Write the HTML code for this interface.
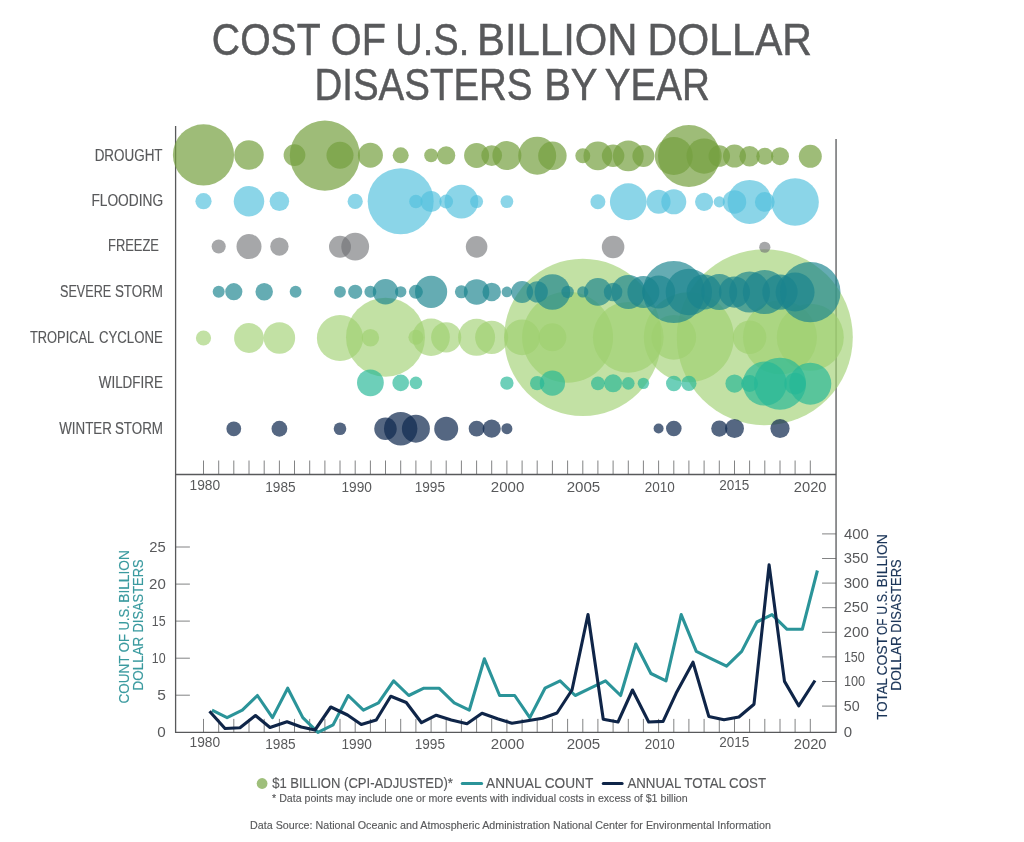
<!DOCTYPE html>
<html lang="en"><head><meta charset="utf-8"><title>Cost of U.S. Billion Dollar Disasters by Year</title>
<style>html,body{margin:0;padding:0;background:#fff}body{width:1024px;height:842px;overflow:hidden}svg{display:block}text{font-family:"Liberation Sans",sans-serif;}</style></head><body>
<svg width="1024" height="842" viewBox="0 0 1024 842">
<rect width="1024" height="842" fill="#fff"/>
<text y="55.0" font-size="45" fill="#58595b" stroke="#58595b" stroke-width="0.5"><tspan x="211.85" textLength="108.15" lengthAdjust="spacingAndGlyphs">COST</tspan> <tspan x="330.82" textLength="55.12" lengthAdjust="spacingAndGlyphs">OF</tspan> <tspan x="395.36" textLength="73.84" lengthAdjust="spacingAndGlyphs">U.S.</tspan> <tspan x="477.05" textLength="160.51" lengthAdjust="spacingAndGlyphs">BILLION</tspan> <tspan x="647.61" textLength="164.41" lengthAdjust="spacingAndGlyphs">DOLLAR</tspan></text>
<text y="100.3" font-size="45" fill="#58595b" stroke="#58595b" stroke-width="0.5"><tspan x="314.52" textLength="217.92" lengthAdjust="spacingAndGlyphs">DISASTERS</tspan> <tspan x="544.15" textLength="52.60" lengthAdjust="spacingAndGlyphs">BY</tspan> <tspan x="604.74" textLength="105.22" lengthAdjust="spacingAndGlyphs">YEAR</tspan></text>
<g stroke="#58595b" stroke-width="1.3" fill="none">
<path d="M175.6 126V732.3H836.05V139"/>
<path d="M175.6 474.5H836.05"/>
</g>
<g stroke="#58595b" stroke-width="0.75" fill="none">
<path d="M203.5 474.5v-14M203.5 732.3v-13.4M218.7 474.5v-14M218.7 732.3v-13.4M233.8 474.5v-14M233.8 732.3v-13.4M249.0 474.5v-14M249.0 732.3v-13.4M264.2 474.5v-14M264.2 732.3v-13.4M279.4 474.5v-14M279.4 732.3v-13.4M294.5 474.5v-14M294.5 732.3v-13.4M309.7 474.5v-14M309.7 732.3v-13.4M324.9 474.5v-14M324.9 732.3v-13.4M340.0 474.5v-14M340.0 732.3v-13.4M355.2 474.5v-14M355.2 732.3v-13.4M370.4 474.5v-14M370.4 732.3v-13.4M385.5 474.5v-14M385.5 732.3v-13.4M400.7 474.5v-14M400.7 732.3v-13.4M415.9 474.5v-14M415.9 732.3v-13.4M431.1 474.5v-14M431.1 732.3v-13.4M446.2 474.5v-14M446.2 732.3v-13.4M461.4 474.5v-14M461.4 732.3v-13.4M476.6 474.5v-14M476.6 732.3v-13.4M491.7 474.5v-14M491.7 732.3v-13.4M506.9 474.5v-14M506.9 732.3v-13.4M522.1 474.5v-14M522.1 732.3v-13.4M537.2 474.5v-14M537.2 732.3v-13.4M552.4 474.5v-14M552.4 732.3v-13.4M567.6 474.5v-14M567.6 732.3v-13.4M582.8 474.5v-14M582.8 732.3v-13.4M597.9 474.5v-14M597.9 732.3v-13.4M613.1 474.5v-14M613.1 732.3v-13.4M628.3 474.5v-14M628.3 732.3v-13.4M643.4 474.5v-14M643.4 732.3v-13.4M658.6 474.5v-14M658.6 732.3v-13.4M673.8 474.5v-14M673.8 732.3v-13.4M688.9 474.5v-14M688.9 732.3v-13.4M704.1 474.5v-14M704.1 732.3v-13.4M719.3 474.5v-14M719.3 732.3v-13.4M734.5 474.5v-14M734.5 732.3v-13.4M749.6 474.5v-14M749.6 732.3v-13.4M764.8 474.5v-14M764.8 732.3v-13.4M780.0 474.5v-14M780.0 732.3v-13.4M795.1 474.5v-14M795.1 732.3v-13.4M810.3 474.5v-14M810.3 732.3v-13.4"/>
<path d="M175.6 695.2h14.3M175.6 658.2h14.3M175.6 621.1h14.3M175.6 584.1h14.3M175.6 547.0h14.3M836.05 706.1h-14M836.05 681.5h-14M836.05 656.9h-14M836.05 632.3h-14M836.05 607.7h-14M836.05 583.1h-14M836.05 558.5h-14M836.05 533.9h-14"/>
</g>
<g fill="#9ecf6f" fill-opacity="0.63">
<circle cx="203.5" cy="338" r="7.6"/>
<circle cx="249.0" cy="338" r="14.9"/>
<circle cx="279.4" cy="338" r="15.75"/>
<circle cx="340.0" cy="338" r="23.1"/>
<circle cx="370.4" cy="337.8" r="8.75"/>
<circle cx="385.5" cy="337.3" r="39.5"/>
<circle cx="415.9" cy="337.3" r="7.5"/>
<circle cx="431.1" cy="337.3" r="18.75"/>
<circle cx="446.2" cy="337.3" r="15.1"/>
<circle cx="476.6" cy="337.3" r="18.5"/>
<circle cx="491.7" cy="337.3" r="16.6"/>
<circle cx="522.1" cy="337.3" r="17.9"/>
<circle cx="552.4" cy="337.3" r="14"/>
<circle cx="567.6" cy="337.3" r="45.5"/>
<circle cx="582.8" cy="337.3" r="78.6"/>
<circle cx="628.3" cy="337.3" r="35.4"/>
<circle cx="673.8" cy="337.3" r="22.4"/>
<circle cx="688.9" cy="337.3" r="45"/>
<circle cx="749.6" cy="337.3" r="16.8"/>
<circle cx="764.8" cy="337.3" r="88"/>
<circle cx="780.0" cy="337.3" r="37"/>
<circle cx="810.3" cy="337.3" r="33.5"/>
</g>
<g fill="#75a03e" fill-opacity="0.7">
<circle cx="203.5" cy="154.9" r="30.6"/>
<circle cx="249.0" cy="155.0" r="14.75"/>
<circle cx="294.5" cy="155.11" r="10.9"/>
<circle cx="324.9" cy="155.6" r="35.1"/>
<circle cx="340.0" cy="155.22" r="13.5"/>
<circle cx="370.4" cy="155.28" r="12.5"/>
<circle cx="400.7" cy="155.36" r="8"/>
<circle cx="431.1" cy="155.43" r="6.9"/>
<circle cx="446.2" cy="155.46" r="9.1"/>
<circle cx="476.6" cy="155.53" r="12.5"/>
<circle cx="491.7" cy="155.56" r="10.4"/>
<circle cx="506.9" cy="155.6" r="14.5"/>
<circle cx="537.2" cy="155.67" r="19"/>
<circle cx="552.4" cy="155.71" r="14.25"/>
<circle cx="582.8" cy="155.78" r="7.5"/>
<circle cx="597.9" cy="155.81" r="14.4"/>
<circle cx="613.1" cy="155.84" r="11.25"/>
<circle cx="628.3" cy="155.88" r="15.4"/>
<circle cx="643.4" cy="155.91" r="11"/>
<circle cx="673.8" cy="155.99" r="19"/>
<circle cx="688.9" cy="156.02" r="30.9"/>
<circle cx="704.1" cy="156.06" r="17.6"/>
<circle cx="719.3" cy="156.09" r="10.75"/>
<circle cx="734.5" cy="156.12" r="11.5"/>
<circle cx="749.6" cy="156.16" r="10.25"/>
<circle cx="764.8" cy="156.19" r="8.5"/>
<circle cx="780.0" cy="156.23" r="9"/>
<circle cx="810.3" cy="156.3" r="11.5"/>
</g>
<g fill="#52c1dc" fill-opacity="0.67">
<circle cx="203.5" cy="201.2" r="8.1"/>
<circle cx="249.0" cy="201.26" r="15.25"/>
<circle cx="279.4" cy="201.3" r="9.75"/>
<circle cx="355.2" cy="201.4" r="7.6"/>
<circle cx="400.7" cy="201.2" r="33"/>
<circle cx="415.9" cy="201.48" r="6.75"/>
<circle cx="431.1" cy="201.5" r="10.6"/>
<circle cx="446.2" cy="201.52" r="6.9"/>
<circle cx="461.4" cy="201.54" r="16.9"/>
<circle cx="476.6" cy="201.56" r="6.5"/>
<circle cx="506.9" cy="201.6" r="6.4"/>
<circle cx="597.9" cy="201.72" r="7.5"/>
<circle cx="628.3" cy="201.76" r="18.4"/>
<circle cx="658.6" cy="201.8" r="12"/>
<circle cx="673.8" cy="201.82" r="12.5"/>
<circle cx="704.1" cy="201.86" r="9.1"/>
<circle cx="719.3" cy="201.88" r="5.6"/>
<circle cx="734.5" cy="201.9" r="11.75"/>
<circle cx="749.6" cy="201.92" r="22"/>
<circle cx="764.8" cy="201.94" r="9.9"/>
<circle cx="795.1" cy="201.98" r="23.75"/>
</g>
<g fill="#707175" fill-opacity="0.62">
<circle cx="218.7" cy="246.52" r="7.05"/>
<circle cx="249.0" cy="246.56" r="12.5"/>
<circle cx="279.4" cy="246.6" r="9.2"/>
<circle cx="340.0" cy="246.68" r="11"/>
<circle cx="355.2" cy="246.7" r="13.9"/>
<circle cx="476.6" cy="246.86" r="10.8"/>
<circle cx="613.1" cy="247.04" r="11.3"/>
<circle cx="764.8" cy="247.24" r="5.6"/>
</g>
<g fill="#19838d" fill-opacity="0.67">
<circle cx="218.7" cy="291.71" r="6"/>
<circle cx="233.8" cy="291.72" r="8.6"/>
<circle cx="264.2" cy="291.74" r="8.75"/>
<circle cx="295.6" cy="291.76" r="5.9"/>
<circle cx="340.0" cy="291.79" r="5.9"/>
<circle cx="355.2" cy="291.8" r="7.1"/>
<circle cx="370.4" cy="291.81" r="6"/>
<circle cx="385.5" cy="291.82" r="12.7"/>
<circle cx="400.7" cy="291.83" r="5.7"/>
<circle cx="415.9" cy="291.84" r="7"/>
<circle cx="431.1" cy="291.85" r="16.1"/>
<circle cx="461.4" cy="291.87" r="6.5"/>
<circle cx="476.6" cy="291.88" r="12.75"/>
<circle cx="491.7" cy="291.89" r="9.25"/>
<circle cx="506.9" cy="291.9" r="5.3"/>
<circle cx="522.1" cy="291.91" r="11"/>
<circle cx="537.2" cy="291.92" r="10.7"/>
<circle cx="552.4" cy="291.93" r="17.8"/>
<circle cx="567.6" cy="291.94" r="6.2"/>
<circle cx="582.8" cy="291.95" r="5.6"/>
<circle cx="597.9" cy="291.96" r="13.9"/>
<circle cx="613.1" cy="291.97" r="9.3"/>
<circle cx="628.3" cy="291.98" r="17"/>
<circle cx="643.4" cy="291.99" r="16"/>
<circle cx="658.6" cy="292.0" r="16.6"/>
<circle cx="673.8" cy="292.01" r="31"/>
<circle cx="688.9" cy="292.02" r="23.2"/>
<circle cx="704.1" cy="292.03" r="17.5"/>
<circle cx="719.3" cy="292.04" r="18"/>
<circle cx="734.5" cy="292.05" r="15.6"/>
<circle cx="749.6" cy="292.06" r="20.5"/>
<circle cx="764.8" cy="292.07" r="22"/>
<circle cx="780.0" cy="292.08" r="17.7"/>
<circle cx="795.1" cy="292.09" r="19.5"/>
<circle cx="810.3" cy="292.1" r="30.2"/>
</g>
<g fill="#25b796" fill-opacity="0.67">
<circle cx="370.4" cy="382.83" r="13.4"/>
<circle cx="400.7" cy="382.89" r="8.3"/>
<circle cx="415.9" cy="382.92" r="6.3"/>
<circle cx="506.9" cy="383.1" r="6.7"/>
<circle cx="537.2" cy="383.16" r="7.2"/>
<circle cx="552.4" cy="383.19" r="12.6"/>
<circle cx="597.9" cy="383.28" r="6.9"/>
<circle cx="613.1" cy="383.31" r="9"/>
<circle cx="628.3" cy="383.34" r="6.3"/>
<circle cx="643.4" cy="383.37" r="5.7"/>
<circle cx="673.8" cy="383.43" r="7.8"/>
<circle cx="688.9" cy="383.46" r="7.6"/>
<circle cx="734.5" cy="383.55" r="9.1"/>
<circle cx="749.6" cy="383.58" r="8.5"/>
<circle cx="764.8" cy="383.61" r="22"/>
<circle cx="780.0" cy="383.64" r="26"/>
<circle cx="795.1" cy="383.67" r="10.8"/>
<circle cx="810.3" cy="383.7" r="21"/>
</g>
<g fill="#0f294f" fill-opacity="0.71">
<circle cx="233.8" cy="428.78" r="7.4"/>
<circle cx="279.4" cy="428.76" r="7.9"/>
<circle cx="340.0" cy="428.73" r="6.3"/>
<circle cx="385.5" cy="428.7" r="11.25"/>
<circle cx="400.7" cy="428.7" r="16.7"/>
<circle cx="415.9" cy="428.69" r="14"/>
<circle cx="446.2" cy="428.67" r="12"/>
<circle cx="476.6" cy="428.66" r="7.9"/>
<circle cx="491.7" cy="428.65" r="9.1"/>
<circle cx="506.9" cy="428.64" r="5.5"/>
<circle cx="658.6" cy="428.56" r="5"/>
<circle cx="673.8" cy="428.55" r="7.8"/>
<circle cx="719.3" cy="428.53" r="8.1"/>
<circle cx="734.5" cy="428.52" r="9.5"/>
<circle cx="780.0" cy="428.5" r="9.6"/>
</g>
<text y="160.5" font-size="15.8" fill="#58595b" stroke="#58595b" stroke-width="0.15"><tspan x="94.63" textLength="67.91" lengthAdjust="spacingAndGlyphs">DROUGHT</tspan></text>
<text y="205.9" font-size="15.8" fill="#58595b" stroke="#58595b" stroke-width="0.15"><tspan x="91.40" textLength="71.80" lengthAdjust="spacingAndGlyphs">FLOODING</tspan></text>
<text y="251.2" font-size="15.8" fill="#58595b" stroke="#58595b" stroke-width="0.15"><tspan x="108.07" textLength="50.91" lengthAdjust="spacingAndGlyphs">FREEZE</tspan></text>
<text y="297.3" font-size="15.8" fill="#58595b" stroke="#58595b" stroke-width="0.15"><tspan x="59.97" textLength="51.23" lengthAdjust="spacingAndGlyphs">SEVERE</tspan> <tspan x="114.93" textLength="48.08" lengthAdjust="spacingAndGlyphs">STORM</tspan></text>
<text y="342.8" font-size="15.8" fill="#58595b" stroke="#58595b" stroke-width="0.15"><tspan x="29.94" textLength="63.85" lengthAdjust="spacingAndGlyphs">TROPICAL</tspan> <tspan x="99.04" textLength="63.75" lengthAdjust="spacingAndGlyphs">CYCLONE</tspan></text>
<text y="388.4" font-size="15.8" fill="#58595b" stroke="#58595b" stroke-width="0.15"><tspan x="98.77" textLength="64.08" lengthAdjust="spacingAndGlyphs">WILDFIRE</tspan></text>
<text y="433.8" font-size="15.8" fill="#58595b" stroke="#58595b" stroke-width="0.15"><tspan x="59.27" textLength="52.55" lengthAdjust="spacingAndGlyphs">WINTER</tspan> <tspan x="114.93" textLength="48.08" lengthAdjust="spacingAndGlyphs">STORM</tspan></text>
<text y="490.3" font-size="15.2" fill="#58595b"><tspan x="189.50" textLength="30.62" lengthAdjust="spacingAndGlyphs">1980</tspan></text>
<text y="747.4" font-size="15.2" fill="#58595b"><tspan x="189.50" textLength="30.62" lengthAdjust="spacingAndGlyphs">1980</tspan></text>
<text y="491.5" font-size="15.2" fill="#58595b"><tspan x="265.21" textLength="30.40" lengthAdjust="spacingAndGlyphs">1985</tspan></text>
<text y="748.8" font-size="15.2" fill="#58595b"><tspan x="265.21" textLength="30.40" lengthAdjust="spacingAndGlyphs">1985</tspan></text>
<text y="491.5" font-size="15.2" fill="#58595b"><tspan x="341.51" textLength="30.40" lengthAdjust="spacingAndGlyphs">1990</tspan></text>
<text y="748.8" font-size="15.2" fill="#58595b"><tspan x="341.51" textLength="30.40" lengthAdjust="spacingAndGlyphs">1990</tspan></text>
<text y="491.5" font-size="15.2" fill="#58595b"><tspan x="414.71" textLength="30.30" lengthAdjust="spacingAndGlyphs">1995</tspan></text>
<text y="748.8" font-size="15.2" fill="#58595b"><tspan x="414.71" textLength="30.30" lengthAdjust="spacingAndGlyphs">1995</tspan></text>
<text y="491.5" font-size="15.2" fill="#58595b"><tspan x="490.75" textLength="33.53" lengthAdjust="spacingAndGlyphs">2000</tspan></text>
<text y="748.8" font-size="15.2" fill="#58595b"><tspan x="490.75" textLength="33.53" lengthAdjust="spacingAndGlyphs">2000</tspan></text>
<text y="491.5" font-size="15.2" fill="#58595b"><tspan x="566.64" textLength="33.63" lengthAdjust="spacingAndGlyphs">2005</tspan></text>
<text y="748.8" font-size="15.2" fill="#58595b"><tspan x="566.64" textLength="33.63" lengthAdjust="spacingAndGlyphs">2005</tspan></text>
<text y="491.5" font-size="15.2" fill="#58595b"><tspan x="644.82" textLength="30.08" lengthAdjust="spacingAndGlyphs">2010</tspan></text>
<text y="748.8" font-size="15.2" fill="#58595b"><tspan x="644.82" textLength="30.08" lengthAdjust="spacingAndGlyphs">2010</tspan></text>
<text y="490.0" font-size="15.2" fill="#58595b"><tspan x="719.32" textLength="30.08" lengthAdjust="spacingAndGlyphs">2015</tspan></text>
<text y="747.3" font-size="15.2" fill="#58595b"><tspan x="719.32" textLength="30.08" lengthAdjust="spacingAndGlyphs">2015</tspan></text>
<text y="491.5" font-size="15.2" fill="#58595b"><tspan x="793.87" textLength="32.69" lengthAdjust="spacingAndGlyphs">2020</tspan></text>
<text y="748.8" font-size="15.2" fill="#58595b"><tspan x="793.87" textLength="32.69" lengthAdjust="spacingAndGlyphs">2020</tspan></text>
<text y="737.3" font-size="15.2" fill="#58595b"><tspan x="157.19" textLength="8.46" lengthAdjust="spacingAndGlyphs">0</tspan></text>
<text y="700.2" font-size="15.2" fill="#58595b"><tspan x="157.18" textLength="8.64" lengthAdjust="spacingAndGlyphs">5</tspan></text>
<text y="663.2" font-size="15.2" fill="#58595b"><tspan x="151.81" textLength="13.82" lengthAdjust="spacingAndGlyphs">10</tspan></text>
<text y="626.1" font-size="15.2" fill="#58595b"><tspan x="151.81" textLength="13.82" lengthAdjust="spacingAndGlyphs">15</tspan></text>
<text y="589.1" font-size="15.2" fill="#58595b"><tspan x="149.05" textLength="16.69" lengthAdjust="spacingAndGlyphs">20</tspan></text>
<text y="552.0" font-size="15.2" fill="#58595b"><tspan x="149.26" textLength="16.47" lengthAdjust="spacingAndGlyphs">25</tspan></text>
<text y="736.9" font-size="15.2" fill="#58595b"><tspan x="843.70" textLength="8.34" lengthAdjust="spacingAndGlyphs">0</tspan></text>
<text y="710.7" font-size="15.2" fill="#58595b"><tspan x="843.73" textLength="15.88" lengthAdjust="spacingAndGlyphs">50</tspan></text>
<text y="686.1" font-size="15.2" fill="#58595b"><tspan x="843.88" textLength="21.31" lengthAdjust="spacingAndGlyphs">100</tspan></text>
<text y="661.5" font-size="15.2" fill="#58595b"><tspan x="843.90" textLength="20.88" lengthAdjust="spacingAndGlyphs">150</tspan></text>
<text y="636.9" font-size="15.2" fill="#58595b"><tspan x="843.54" textLength="25.35" lengthAdjust="spacingAndGlyphs">200</tspan></text>
<text y="612.3" font-size="15.2" fill="#58595b"><tspan x="843.55" textLength="24.92" lengthAdjust="spacingAndGlyphs">250</tspan></text>
<text y="587.7" font-size="15.2" fill="#58595b"><tspan x="843.70" textLength="25.19" lengthAdjust="spacingAndGlyphs">300</tspan></text>
<text y="563.1" font-size="15.2" fill="#58595b"><tspan x="843.71" textLength="24.77" lengthAdjust="spacingAndGlyphs">350</tspan></text>
<text y="538.5" font-size="15.2" fill="#58595b"><tspan x="844.00" textLength="24.87" lengthAdjust="spacingAndGlyphs">400</tspan></text>
<g transform="translate(129.1,0) rotate(-90)">
<text y="0" font-size="15.5" fill="#3a9a9f" stroke="#3a9a9f" stroke-width="0.15"><tspan x="-703.57" textLength="47.81" lengthAdjust="spacingAndGlyphs">COUNT</tspan> <tspan x="-652.16" textLength="18.27" lengthAdjust="spacingAndGlyphs">OF</tspan> <tspan x="-630.54" textLength="25.27" lengthAdjust="spacingAndGlyphs">U.S.</tspan> <tspan x="-602.80" textLength="52.77" lengthAdjust="spacingAndGlyphs">BILLION</tspan></text>
</g>
<g transform="translate(143.3,0) rotate(-90)">
<text y="0" font-size="15.5" fill="#3a9a9f" stroke="#3a9a9f" stroke-width="0.15"><tspan x="-690.47" textLength="53.77" lengthAdjust="spacingAndGlyphs">DOLLAR</tspan> <tspan x="-632.53" textLength="73.15" lengthAdjust="spacingAndGlyphs">DISASTERS</tspan></text>
</g>
<g transform="translate(887.3,0) rotate(-90)">
<text y="0" font-size="15.5" fill="#1b3558" stroke="#1b3558" stroke-width="0.15"><tspan x="-719.66" textLength="41.06" lengthAdjust="spacingAndGlyphs">TOTAL</tspan> <tspan x="-675.59" textLength="38.34" lengthAdjust="spacingAndGlyphs">COST</tspan> <tspan x="-634.99" textLength="16.34" lengthAdjust="spacingAndGlyphs">OF</tspan> <tspan x="-614.79" textLength="24.17" lengthAdjust="spacingAndGlyphs">U.S.</tspan> <tspan x="-587.41" textLength="53.19" lengthAdjust="spacingAndGlyphs">BILLION</tspan></text>
</g>
<g transform="translate(901.4,0) rotate(-90)">
<text y="0" font-size="15.5" fill="#1b3558" stroke="#1b3558" stroke-width="0.15"><tspan x="-690.69" textLength="54.59" lengthAdjust="spacingAndGlyphs">DOLLAR</tspan> <tspan x="-632.63" textLength="73.25" lengthAdjust="spacingAndGlyphs">DISASTERS</tspan></text>
</g>
<polyline points="212.0,710.2 227.1,717.6 242.3,710.2 257.4,695.5 272.5,717.6 287.7,688.2 302.8,717.6 317.9,732.3 333.1,724.9 348.2,695.5 363.4,710.2 378.5,702.9 393.6,680.8 408.8,695.5 423.9,688.2 439.0,688.2 454.2,702.9 469.3,710.2 484.4,658.8 499.6,695.5 514.7,695.5 529.8,717.6 545.0,688.2 560.1,680.8 575.2,695.5 590.4,688.2 605.5,680.8 620.6,695.5 635.8,644.0 650.9,673.5 666.0,680.8 681.2,614.6 696.3,651.4 711.5,658.8 726.6,666.1 741.7,651.4 756.9,622.0 772.0,614.6 787.1,629.3 802.3,629.3 817.4,570.5" fill="none" stroke="#2b9499" stroke-width="3.1" stroke-linejoin="round"/>
<polyline points="209.5,711.25 225,728.5 240,727.75 255.5,715.5 270,727.5 287,721.75 301.25,727 315,730 330.75,707 347.5,715 361.25,724.5 376.25,720 390.75,696.25 406.25,702.5 421.5,722.7 436.25,715.2 451.25,720 467,723.75 482,713.25 497.5,718.75 512,723.25 527.5,720.75 542.5,718.25 557,713 572,690 588,614.5 603.25,719.25 618,722 632.5,690 648.7,722 663.1,721.4 676.1,693.3 693,662.2 708.8,716.4 724,719.75 738.9,717 754,704.2 769.1,564.9 784.5,681.4 798.7,705.8 815,680.5" fill="none" stroke="#0f2548" stroke-width="3.1" stroke-linejoin="round"/>
<circle cx="262.1" cy="783.5" r="5.4" fill="#9fbf7b"/>
<text y="788.4" font-size="15" fill="#58595b" stroke="#58595b" stroke-width="0.15"><tspan x="272.17" textLength="180.75" lengthAdjust="spacingAndGlyphs">$1 BILLION (CPI-ADJUSTED)*</tspan></text>
<path d="M462.3 783.5H481.6" stroke="#2b9499" stroke-width="3.1" stroke-linecap="round"/>
<text y="788.4" font-size="15" fill="#58595b" stroke="#58595b" stroke-width="0.15"><tspan x="486.10" textLength="107.21" lengthAdjust="spacingAndGlyphs">ANNUAL COUNT</tspan></text>
<path d="M603.3 783.5H622.1" stroke="#0f2548" stroke-width="3.1" stroke-linecap="round"/>
<text y="788.4" font-size="15" fill="#58595b" stroke="#58595b" stroke-width="0.15"><tspan x="627.40" textLength="138.64" lengthAdjust="spacingAndGlyphs">ANNUAL TOTAL COST</tspan></text>
<text y="802.2" font-size="11.4" fill="#58595b" stroke="#58595b" stroke-width="0.15"><tspan x="272.09" textLength="415.56" lengthAdjust="spacingAndGlyphs">* Data points may include one or more events with individual costs in excess of $1 billion</tspan></text>
<text y="828.8" font-size="11.4" fill="#58595b" stroke="#58595b" stroke-width="0.15"><tspan x="250.04" textLength="520.86" lengthAdjust="spacingAndGlyphs">Data Source: National Oceanic and Atmospheric Administration National Center for Environmental Information</tspan></text>
</svg></body></html>
